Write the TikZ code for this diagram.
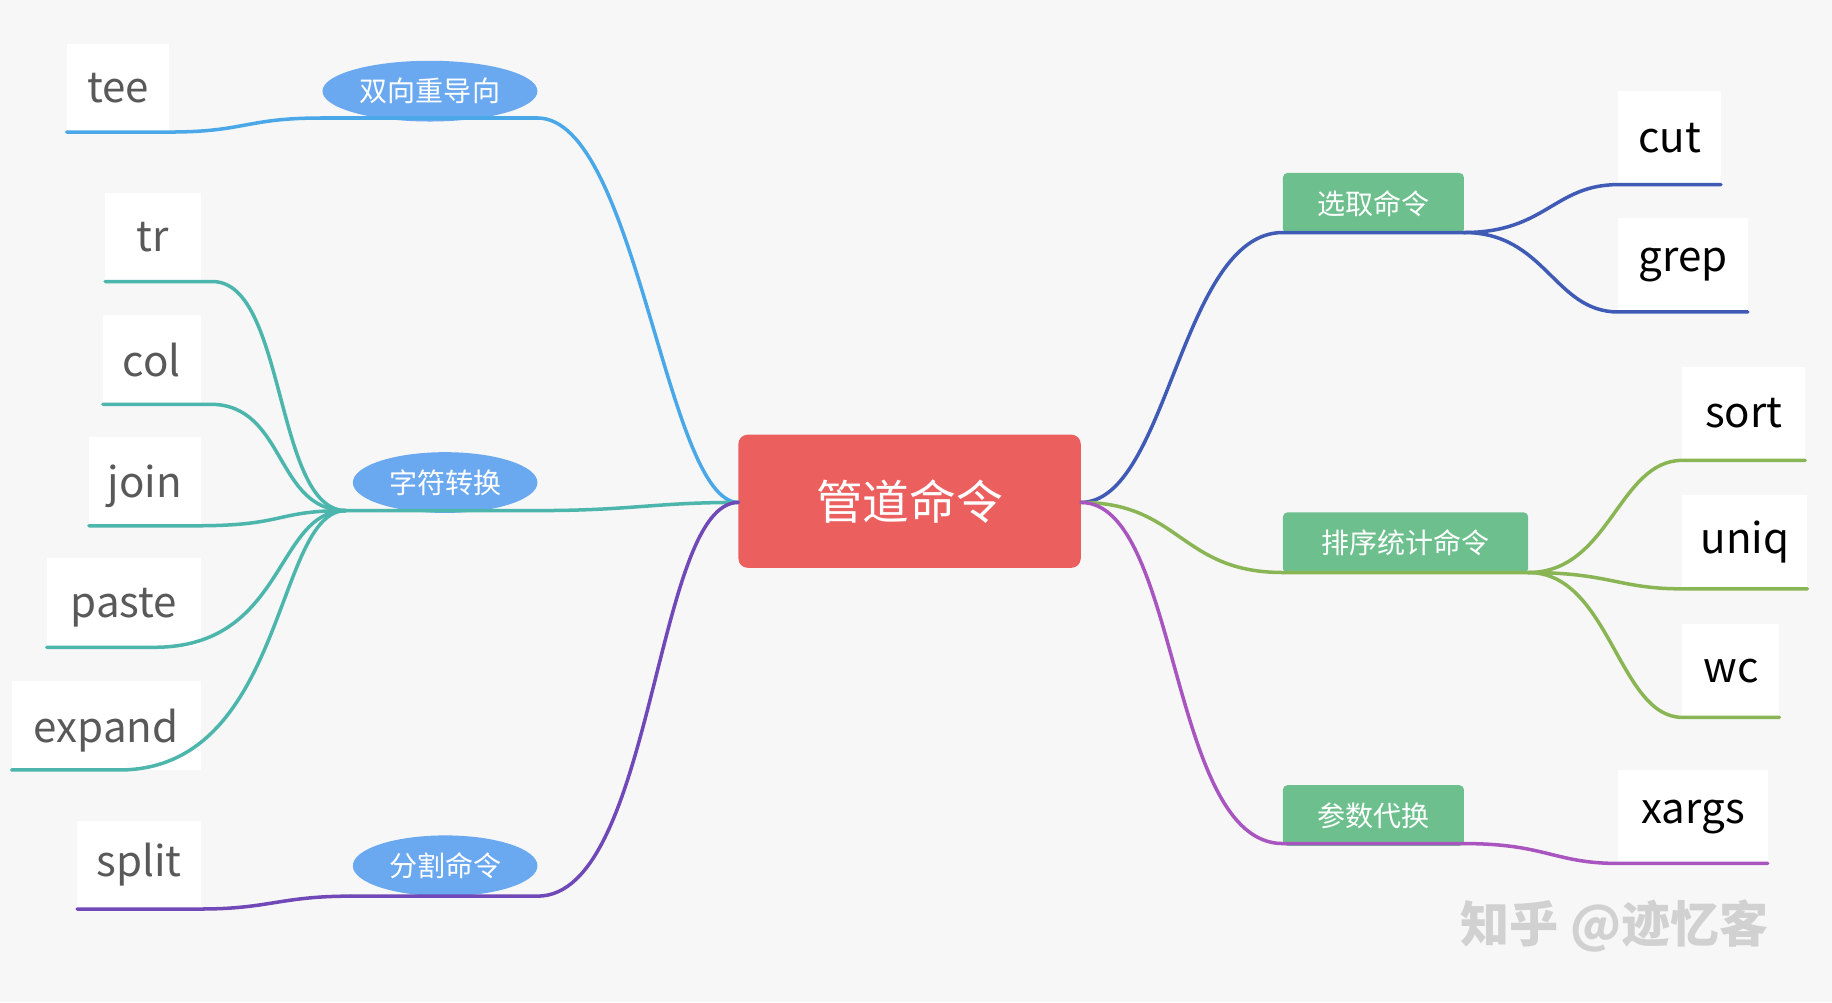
\documentclass[tikz,border=0pt]{standalone}
\usepackage{fontspec}
\setmainfont{Noto Sans CJK SC}
\usetikzlibrary{shapes.geometric}
\definecolor{bg}{HTML}{F7F7F7}
\definecolor{cblue}{HTML}{4AA8E8}
\definecolor{cteal}{HTML}{4DB6AC}
\definecolor{cpurp}{HTML}{7048B8}
\definecolor{cnavy}{HTML}{3F5BB5}
\definecolor{cgreen}{HTML}{8AB554}
\definecolor{cmag}{HTML}{A855C0}
\definecolor{ell}{HTML}{6AA8F0}
\definecolor{grn}{HTML}{6DC08E}
\definecolor{red}{HTML}{EC5F5F}
\tikzset{
 leaf/.style={fill=white,inner sep=0pt,font=\fontsize{18}{20}\selectfont},
 lgray/.style={text=black!65},
 ellnode/.style={ellipse,fill=ell,text=white,inner sep=0pt,font=\fontsize{12}{14}\selectfont,minimum width=92pt,minimum height=26pt},
 gbox/.style={rectangle,rounded corners=2pt,fill=grn,text=white,inner sep=0pt,font=\fontsize{12}{14}\selectfont,minimum height=26pt},
 br/.style={line width=1.5pt,line cap=round},
}
\begin{document}
\begin{tikzpicture}[x=0.5pt,y=-0.5pt]
\fill[bg] (0,0) rectangle (1568,858);
\useasboundingbox (0,0) rectangle (1568,858);
% center
\node[fill=red,rounded corners=4pt,minimum width=146.5pt,minimum height=57pt,text=white,font=\fontsize{20}{24}\selectfont] (c) at (778.5,429) {管道命令};
\coordinate (cw) at (632,430); \coordinate (ce) at (925,430);
% left: 双向重导向
\node[ellnode] (e1) at (368,78) {双向重导向};
\coordinate (e1l) at (275,101); \coordinate (e1r) at (460,101);
\draw[br,cblue] (e1l) -- (e1r);
\draw[br,cblue] (cw) .. controls (570,430) and (545,101) .. (e1r);
\node[leaf,lgray,minimum width=44pt,minimum height=37.5pt] (tee) at (101,75.5) {tee};
\coordinate (teel) at (57,113);\coordinate (teer) at (145,113);
\draw[br,cblue] (teel) -- (teer) .. controls (210,113) and (210,101) .. (e1l);
% 字符转换
\node[ellnode,minimum width=79pt] (e2) at (381,413) {字符转换};
\coordinate (e2l) at (296,437); \coordinate (e2r) at (460,437);
\draw[br,cteal] (e2l) -- (e2r) .. controls (540,437) and (560,430) .. (cw);
\foreach \n/\t/\xa/\ya in {tr/tr/90/165, col/col/88/270, join/join/76/374, paste/paste/40/478, expand/expand/10/583}{
  \node[leaf,lgray,minimum width={(172-\xa)/2*1pt},minimum height=38pt,text depth=0pt] (\n) at ({(172+\xa)/2},{\ya+38}) {\t};
  \coordinate (\n b) at (\xa,\ya+76);
  \draw[br,cteal] (\n b) -- ++(92,0) .. controls (245,\ya+76) and (235,437) .. (e2l);
}
% 分割命令
\node[ellnode,minimum width=79pt] (e3) at (381,741) {分割命令};
\coordinate (e3l) at (300,767); \coordinate (e3r) at (460,767);
\draw[br,cpurp] (e3l) -- (e3r) .. controls (560,767) and (560,430) .. (cw);
\node[leaf,lgray,minimum width=53pt,minimum height=37.5pt] (split) at (119,740) {split};
\coordinate (splitl) at (66,778);
\draw[br,cpurp] (splitl) -- (172,778) .. controls (230,778) and (240,767) .. (e3l);
% right
\node[gbox,minimum width=77.5pt] (g1) at (1175.5,174) {选取命令};
\coordinate (g1l) at (1098,199); \coordinate (g1r) at (1253,199);
\draw[br,cnavy] (ce) .. controls (1000,430) and (1010,199) .. (g1l) -- (g1r);
\node[gbox,minimum width=105pt] (g2) at (1203,464.5) {排序统计命令};
\coordinate (g2l) at (1098,490); \coordinate (g2r) at (1308,490);
\draw[br,cgreen] (ce) .. controls (1010,430) and (1010,490) .. (g2l) -- (g2r);
\node[gbox,minimum width=77.5pt] (g3) at (1175.5,698) {参数代换};
\coordinate (g3l) at (1098,722); \coordinate (g3r) at (1253,722);
\draw[br,cmag] (ce) .. controls (1010,430) and (1000,722) .. (g3l) -- (g3r);
\foreach \n/\t/\xa/\xb/\ya/\g/\gc in {cut/cut/1385/1473/78/g1r/cnavy, grep/grep/1385/1496/187/g1r/cnavy, sort/sort/1440/1545/314/g2r/cgreen, uniq/uniq/1440/1547/424/g2r/cgreen, wc/wc/1440/1523/534/g2r/cgreen, xargs/xargs/1385/1513/659/g3r/cmag}{
  \node[leaf,minimum width={(\xb-\xa)/2*1pt},minimum height=40pt] (\n) at ({(\xa+\xb)/2},{\ya+40}) {\t};
  \path (\g) coordinate (s);
  \draw[br,\gc] (\g) .. controls ([xshift=35]s) and ({\xa-55},\ya+80) .. ({\xa},\ya+80) -- ({\xb},\ya+80);
}
\node[text=black!18,font=\fontsize{21}{24}\selectfont\bfseries] (wm) at (1382,793) {知乎 @迹忆客};
\end{tikzpicture}
\end{document}
